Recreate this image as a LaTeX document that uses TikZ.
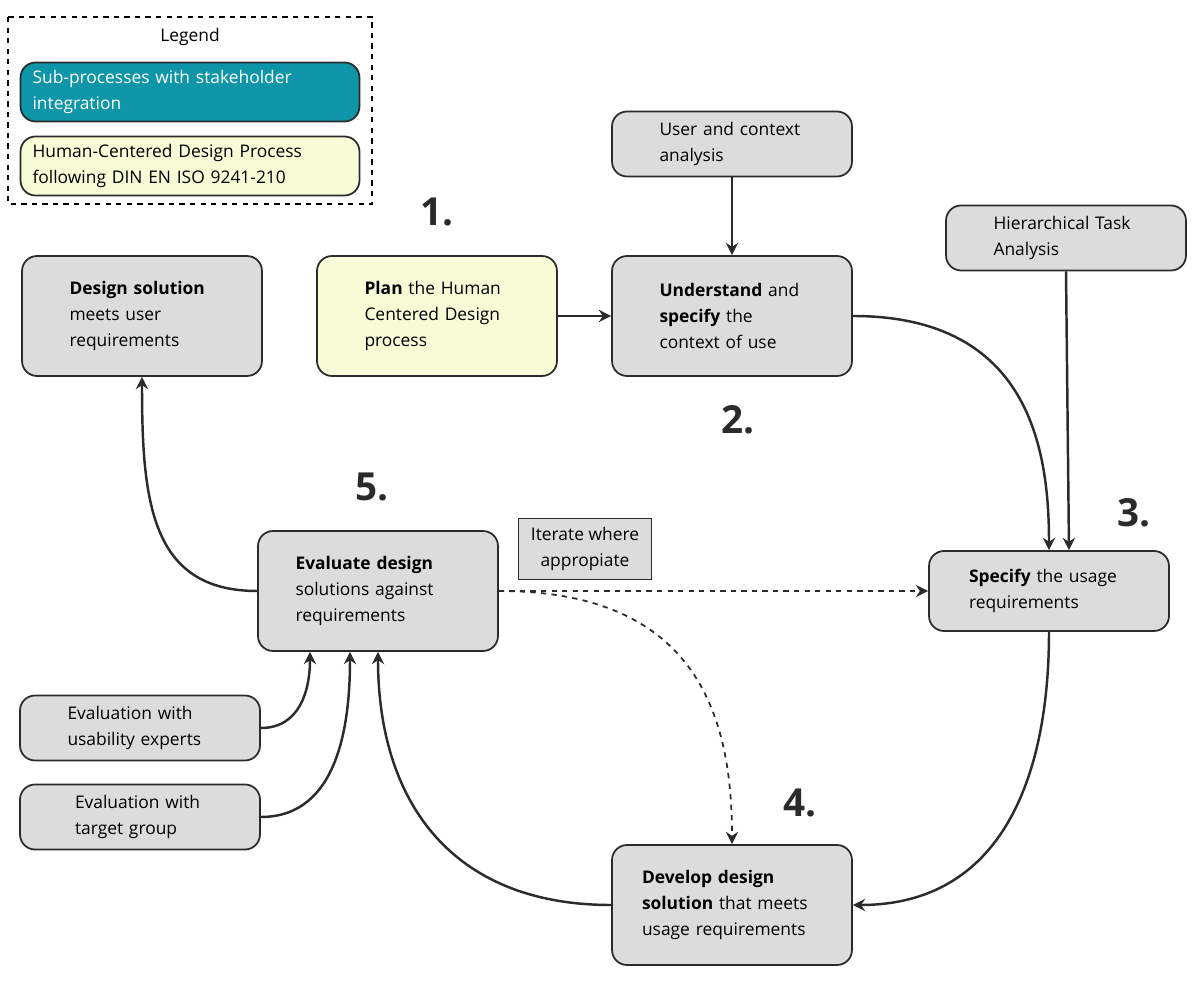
\documentclass[tikz,border=0pt]{standalone}
\usepackage{fontspec}
\setmainfont{Open Sans}
\usetikzlibrary{calc,arrows.meta}
\definecolor{boxgray}{HTML}{DCDCDC}
\definecolor{plan}{HTML}{F8FCD6}
\definecolor{teal}{HTML}{0E95A7}
\definecolor{line}{HTML}{2B2B2B}
\tikzset{
  phase/.style={draw=line,line width=1pt,fill=boxgray,rounded corners=0.3cm,
    minimum width=4.8cm,minimum height=2.4cm,align=left,text width=2.9cm,
    inner sep=0pt,font=\fontsize{9.9}{14.7}\selectfont},
  aux/.style={phase,minimum height=1.3cm},
  num/.style={font=\fontsize{22}{26}\selectfont\bfseries,text=line},
  arr/.style={draw=line,line width=1.4pt,-{Stealth[length=7pt,width=7pt]}}
}
\begin{document}
\begin{tikzpicture}[x=0.02cm,y=-0.02cm]
  \useasboundingbox (0,0) rectangle (1200,982);
  % legend
  \draw[dashed,line width=0.8pt] (8,17) rectangle (372,204);
  \node[font=\fontsize{9.9}{14.7}\selectfont] (legend) at (190,37) {Legend};
  \node[aux,fill=teal,text=white,minimum width=6.78cm,minimum height=1.18cm,text width=6.3cm] (lteal) at (190,92)
    {Sub-processes with stakeholder\\integration};
  \node[aux,fill=plan,minimum width=6.78cm,minimum height=1.18cm,text width=6.3cm] (lplan) at (190,166)
    {Human-Centered Design Process\\following DIN EN ISO 9241-210};
  % process steps
  \node[phase] (done) at (142,316) {\textbf{Design solution}\\meets user\\requirements};
  \node[phase,fill=plan] (plan) at (437,316) {\textbf{Plan} the Human\\Centered Design\\process};
  \node[phase] (understand) at (732,316) {\textbf{Understand} and\\\textbf{specify} the\\context of use};
  \node[phase,minimum height=1.6cm,text width=3.2cm] (specify) at (1049,591) {\textbf{Specify} the usage\\requirements};
  \node[phase,text width=3.6cm] (develop) at (732,905) {\textbf{Develop design}\\\textbf{solution} that meets\\usage requirements};
  \node[phase,text width=3.3cm] (evaluate) at (378,591) {\textbf{Evaluate design}\\solutions against\\requirements};
  % sub-processes
  \node[aux] (context) at (732,144) {User and context\\analysis};
  \node[aux] (hta) at (1066,238) {Hierarchical Task\\Analysis};
  \node[aux] (experts) at (140,728) {Evaluation with\\usability experts};
  \node[aux,text width=2.6cm] (target) at (140,817) {Evaluation with\\target group};
  \node[draw=line,line width=1pt,fill=boxgray,minimum width=2.66cm,minimum height=1.22cm,align=center,
    inner sep=0pt,font=\fontsize{9.9}{14.7}\selectfont] (iterate) at (585,549) {Iterate where\\appropiate};
  % numbers
  \node[num] (n1) at (437,212) {1.};
  \node[num] (n2) at (738,420) {2.};
  \node[num] (n3) at (1134,513) {3.};
  \node[num] (n4) at (800,803) {4.};
  \node[num] (n5) at (372,487) {5.};
  % connectors
  \draw[arr] (context) -- (understand);
  \draw[arr] (plan) -- (understand);
  \draw[arr] (understand.east) .. controls (1030,316) and (1049,450) .. (specify.north);
  \draw[arr] ($(hta.south)+(0,0)$) -- ($(specify.north)+(20,0)$);
  \draw[arr] (specify.south) .. controls (1049,780) and (1000,905) .. (develop.east);
  \draw[arr] (develop.west) .. controls (450,905) and (378,800) .. (evaluate.south);
  \draw[arr] (evaluate.west) .. controls (150,591) and (142,500) .. (done.south);
  \draw[arr] (experts.east) .. controls (300,728) and (310,690) .. ($(evaluate.south)+(-68,0)$);
  \draw[arr] (target.east) .. controls (340,817) and (350,720) .. ($(evaluate.south)+(-28,0)$);
  \draw[arr,dashed,line width=1pt] (evaluate.east) -- (specify.west);
  \draw[arr,dashed,line width=1pt] (evaluate.east) .. controls (700,591) and (732,720) .. (develop.north);
\end{tikzpicture}
\end{document}
